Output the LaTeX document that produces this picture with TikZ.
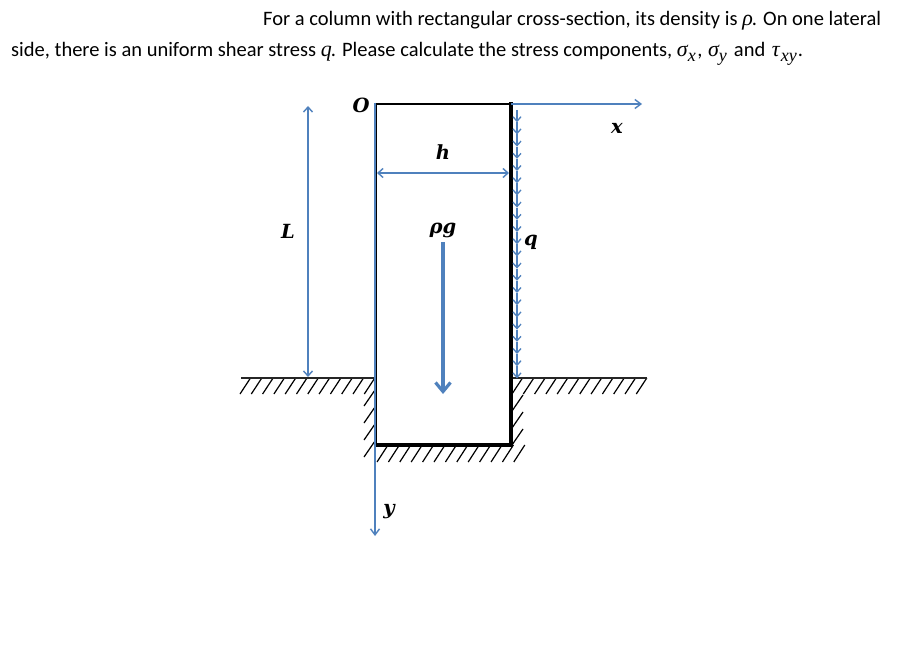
\documentclass[tikz,border=0pt]{standalone}
\usepackage{fontspec}
\setmainfont{Carlito}
\newfontfamily\varfont{Liberation Serif}
\newfontfamily\labfont{DejaVu Serif}
\usetikzlibrary{arrows.meta,calc}
\definecolor{axisblue}{RGB}{79,129,189}
\newcommand{\iv}[1]{{\fontsize{22}{24}\selectfont\varfont\itshape #1}}
\newcommand{\sbs}[1]{\raisebox{-4.5pt}{\fontsize{18}{18}\selectfont\varfont\itshape #1}}
\tikzset{
  axis/.style={draw=axisblue,line width=1.4pt,-{Straight Barb[length=6pt,width=9pt,line width=1.4pt]}},
  dim/.style={draw=axisblue,line width=1.4pt,{Straight Barb[length=5pt,width=9pt,line width=1.4pt]}-{Straight Barb[length=5pt,width=9pt,line width=1.4pt]}},
  load/.style={draw=axisblue,line width=3.2pt,-{Straight Barb[length=9pt,width=15pt,line width=3.2pt]}},
  shear/.style={draw=axisblue,line width=1.3pt,-{Straight Barb[length=4.5pt,width=8pt,line width=1.3pt]}},
  ground/.style={draw=black!85,line width=1.5pt},
  hatch/.style={draw=black,line width=1.2pt},
  wall/.style={draw=black,line width=3.2pt},
  lab/.style={inner sep=0pt,font=\fontsize{19.5}{22}\selectfont\labfont\bfseries\itshape},
  body/.style={inner sep=0pt,anchor=base west,font=\fontsize{20.5}{24}\selectfont}
}
\begin{document}
\begin{tikzpicture}[x=1pt,y=-1pt]
\useasboundingbox (0,0) rectangle (902,650);
\fill[white] (0,0) rectangle (902,650);
\node[body] (line1) at (263,26) {For a column with rectangular cross-section, its density is \iv{ρ}\hspace{-1pt}. On one lateral};
\node[body] (line2) at (11,57) {side, there is an uniform shear stress \iv{q}\hspace{-1pt}. Please calculate the stress components, \iv{σ}\sbs{x}\hspace{1.5pt}, \hspace{1pt}\iv{σ}\sbs{y}\hspace{2.5pt} and \hspace{2pt}\iv{τ}\hspace{1pt}\sbs{xy}\hspace{1pt}.};
% ground
\coordinate (gl1) at (241,378); \coordinate (gl2) at (375,378);
\coordinate (gr1) at (512,378); \coordinate (gr2) at (647,378);
\foreach \i in {0,...,11} \draw[hatch] ({250.5+11.3*\i},378) -- ++(-10.5,16);
\foreach \i in {0,...,11} \draw[hatch] ({522.5+11.3*\i},378) -- ++(-10.5,16);
\foreach \i in {0,...,12} \draw[hatch] ({388+11.4*\i},445) -- ++(-11,17);
\foreach \yy in {390,407,424,441} \draw[hatch] (375,\yy) -- ++(-11,16);
\foreach \yy in {395,412,429} \draw[hatch] (523,\yy) -- ++(-11,16);
\draw[ground] (gl1) -- (gl2);
\draw[ground] (gr1) -- (gr2);
% column
\node[draw=black,line width=2.6pt,outer sep=0pt,minimum width=135pt,minimum height=341pt,inner sep=0pt,anchor=north west] (col) at (376,104) {};
\draw[wall,line cap=rect] (col.north east) -- (col.south east) -- (col.south west);
% axes
\coordinate (xend) at (642,104);
\coordinate (ytop) at (375,103);
\coordinate (yend) at (375,536);
\coordinate (Lt) at (308,106);
\coordinate (Lb) at (308,377);
\draw[axis] (col.north east) -- (xend |- col.north east);
\draw[axis] (ytop) -- (yend);
\draw[dim,shorten <=1pt,shorten >=2pt] (col.west |- 0,173) -- (col.east |- 0,173);
\draw[dim] (Lt) -- (Lb);
\coordinate (ls) at (443,242);
\coordinate (le) at (443,394);
\draw[load] (ls) -- (le);
% shear arrows
\foreach \i in {0,...,21} \draw[shear] (517,{110+12.2*\i}) -- ++(0,12.2);
\node[lab] (o) at (361,105) {O};
\node[lab] (xl) at (617,128) {x};
\node[lab] (yl) at (389,512) {y};
\node[lab] (hl) at (443,152) {h};
\node[lab] (Ll) at (288,231) {L};
\node[lab] (rg) at (443,230) {ρg};
\node[lab] (ql) at (531,242) {q};
\end{tikzpicture}
\end{document}
